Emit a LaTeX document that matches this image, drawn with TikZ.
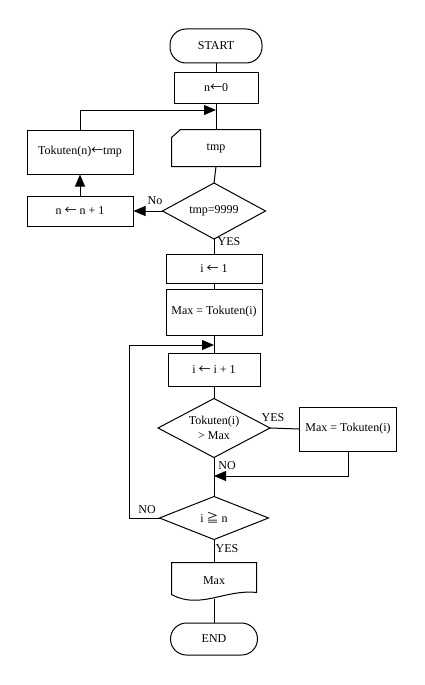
\documentclass[tikz,border=0pt]{standalone}
\usepackage{fontspec}
\setmainfont{Liberation Serif}
\newfontfamily\cjk{Noto Sans CJK JP}
\newcommand{\larr}{{\cjk ←}}
\usetikzlibrary{arrows.meta,calc}
\begin{document}
\begin{tikzpicture}[x=1pt,y=-1pt,line width=1pt,
  font=\fontsize{12}{15}\selectfont,
  proc/.style={draw,rectangle,inner sep=0pt},
  term/.style={draw,rectangle,rounded corners=16pt,inner sep=0pt},
  hidden/.style={rectangle,inner sep=0pt},
  lbl/.style={inner sep=0pt},
  arr/.style={-{Triangle[length=12pt,width=10pt]}}]
\fill[white] (0,0) rectangle (424,685);
\useasboundingbox (0,0) rectangle (424,685);
% nodes
\node[term,minimum width=92pt,minimum height=34pt] (start) at (216,46) {START};
\node[proc,minimum width=84pt,minimum height=31pt] (n0) at (216,87.5) {n\larr0};
\coordinate (j1) at (216,110);
\node[hidden,minimum width=88pt,minimum height=36pt] (tmp) at (216,148) {tmp};
\draw (tmp.south west) -- ($(tmp.north west)+(0,8)$) -- ($(tmp.north west)+(9,0)$) -- (tmp.north east) -- (tmp.south east) -- cycle;
\node[hidden,minimum width=102pt,minimum height=55pt] (d1) at (214,211) {tmp=9999};
\draw (d1.north) -- (d1.east) -- (d1.south) -- (d1.west) -- cycle;
\node[proc,minimum width=106pt,minimum height=30pt] (n1) at (80,211) {n \larr{} n + 1};
\node[proc,minimum width=106pt,minimum height=44pt] (tok) at (80,152) {Tokuten(n)\larr tmp};
\node[proc,minimum width=96pt,minimum height=29pt] (i1) at (214,268.5) {i \larr{} 1};
\node[proc,minimum width=96pt,minimum height=46pt] (m1) at (214,312) {Max = Tokuten(i)};
\coordinate (j2) at (214,345);
\node[proc,minimum width=92pt,minimum height=33pt] (inc) at (214,369.5) {i \larr{} i + 1};
\node[hidden,minimum width=111pt,minimum height=58pt,align=center] (d2) at (214,428) {Tokuten(i)\\> Max};
\draw (d2.north) -- (d2.east) -- (d2.south) -- (d2.west) -- cycle;
\node[proc,minimum width=97pt,minimum height=44pt] (m2) at (348,429) {Max = Tokuten(i)};
\coordinate (j3) at (214,476);
\node[hidden,minimum width=108pt,minimum height=42pt] (d3) at (214,518) {i {\cjk ≧} n};
\draw (d3.north) -- (d3.east) -- (d3.south) -- (d3.west) -- cycle;
\coordinate (c1) at (129,518);
\node[hidden,minimum width=84pt,minimum height=35pt] (out) at (214,580.5) {Max};
\draw (out.north west) -- ($(out.north west)+(0,32)$) .. controls (200,610) and (225,589) .. ($(out.north east)+(0,30)$) -- (out.north east) -- cycle;
\node[term,minimum width=87pt,minimum height=32pt] (end) at (214,639) {END};
% labels
\node[lbl] (l1) at (155,201) {No};
\node[lbl] (l2) at (229,242) {YES};
\node[lbl] (l3) at (273,418) {YES};
\node[lbl] (l4) at (227,466) {NO};
\node[lbl] (l5) at (147,510) {NO};
\node[lbl] (l6) at (227,549) {YES};
% connectors
\draw (start) -- (n0);
\draw (n0) -- (tmp);
\draw[arr] (tok.north) |- (j1);
\draw (tmp.south) -- (d1.north);
\draw[arr] (d1.west) -- (n1.east);
\draw[arr] (n1) -- (tok);
\draw (d1.south) -- (i1.north);
\draw (i1) -- (m1);
\draw (m1) -- (inc);
\draw[arr] (d3.west) -- (c1) |- (j2);
\draw (inc.south) -- (d2.north);
\draw (d2.east) -- (m2.west);
\draw[arr] (m2.south) |- (j3);
\draw (d2.south) -- (d3.north);
\draw (d3.south) -- (out.north);
\draw (out.south) -- (end.north);
\end{tikzpicture}
\end{document}
